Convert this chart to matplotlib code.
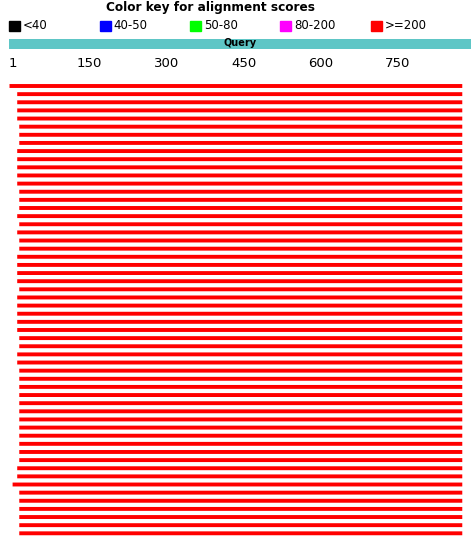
import matplotlib
matplotlib.use('Agg')
import matplotlib.pyplot as plt
from matplotlib.transforms import blended_transform_factory

# colour key for alignment scores
key_labels = ['<40', '40-50', '50-80', '80-200', '>=200']
key_colors = ['#000000', '#0000ff', '#00ff00', '#ff00ff', '#ff0000']

# query axis
query_len = 900
tick_values = [1, 150, 300, 450, 600, 750]

# hits (query coordinates), top to bottom
hit_starts = [1, 16, 16, 16, 16, 20, 20, 20, 16, 16,
              16, 16, 16, 20, 20, 20, 16, 20, 16, 20,
              20, 16, 16, 16, 16, 20, 16, 16, 16, 16,
              16, 20, 20, 16, 16, 20, 20, 20, 20, 20,
              20, 20, 20, 20, 20, 20, 20, 16, 16, 7,
              20, 20, 20, 20, 20, 20]
hit_ends = [883] * len(hit_starts)
hit_scores = [250] * len(hit_starts)


def score_color(s):
    if s < 40:
        return key_colors[0]
    if s < 50:
        return key_colors[1]
    if s < 80:
        return key_colors[2]
    if s < 200:
        return key_colors[3]
    return key_colors[4]


W, H = 474, 538
fig = plt.figure(figsize=(W / 100, H / 100), dpi=100)


def fx(px):
    return px / W


def fy(py):
    return 1 - py / H


# title + colour key
fig.text(fx(211), fy(8), 'Color key for alignment scores', ha='center', va='center',
         fontsize=8.7, fontweight='bold', family='DejaVu Sans')
key_x = [9, 99.5, 190, 280, 371]
for kx, lab, col in zip(key_x, key_labels, key_colors):
    fig.patches.append(plt.Rectangle((fx(kx), fy(30.5)), 11 / W, 10 / H, color=col,
                                     transform=fig.transFigure, figure=fig))
    fig.text(fx(kx + 14), fy(25.5), lab, ha='left', va='center', fontsize=8.5)

# query bar
ax_q = fig.add_axes([fx(9), fy(48.5), 462 / W, 10 / H])
ax_q.barh([0], [query_len], left=0, height=1.0, color='#5ec6c6')
ax_q.set_xlim(0, query_len)
ax_q.set_ylim(-0.5, 0.5)
ax_q.axis('off')
ax_q.text(query_len / 2, 0, 'Query', ha='center', va='center', fontsize=7, fontweight='bold')

tr = blended_transform_factory(ax_q.transData, fig.transFigure)
for v in tick_values:
    fig.text(v + 7, fy(63.5), str(v), transform=tr, ha='center', va='center', fontsize=9.5)

# hits
n = len(hit_starts)
pitch = (533.3 - 86) / (n - 1)
top = 86 - pitch / 2
bottom = 533.3 + pitch / 2
ax = fig.add_axes([fx(9), fy(bottom), 462 / W, (bottom - top) / H])
rows = list(range(1, n + 1))
widths = [e - s for s, e in zip(hit_starts, hit_ends)]
colors = [score_color(s) for s in hit_scores]
bars = ax.barh(rows, widths, left=hit_starts, height=0.48, color=colors, linewidth=0)
for b in bars:
    b.set_snap(False)
ax.set_xlim(0, query_len)
ax.set_ylim(n + 0.5, 0.5)
ax.axis('off')

plt.savefig('out.png', dpi=100)
plt.close()
